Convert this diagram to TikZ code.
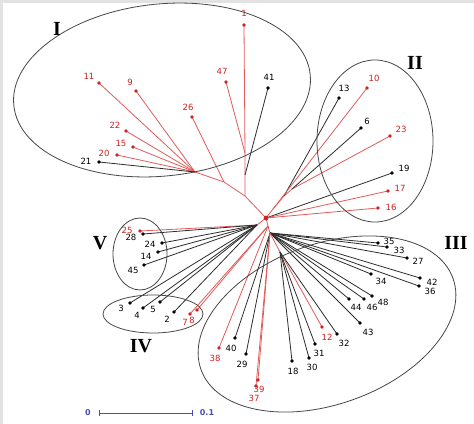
\documentclass[tikz,border=0pt]{standalone}
\usepackage{fontspec}
\usetikzlibrary{backgrounds,arrows.meta}
\newfontfamily\lblfont{DejaVu Sans}
\newfontfamily\romfont{Liberation Serif}
\definecolor{lred}{RGB}{226,90,90}
\definecolor{dred}{RGB}{205,35,35}
\definecolor{lblack}{RGB}{45,45,45}
\definecolor{sbblue}{RGB}{75,75,185}
\definecolor{framegray}{RGB}{226,226,226}
\begin{document}
\begin{tikzpicture}[x=0.75pt,y=-0.75pt,
  rl/.style={draw=lred,line width=0.6pt},
  bl/.style={draw=lblack,line width=0.6pt},
  rdot/.style={circle,fill=dred,inner sep=0pt,minimum size=2.7pt},
  bdot/.style={circle,fill=black,inner sep=0pt,minimum size=2.7pt},
  rlab/.style={text=dred,font=\lblfont\fontsize{6.4}{7}\selectfont,inner sep=0pt},
  blab/.style={text=black,font=\lblfont\fontsize{6.4}{7}\selectfont,inner sep=0pt},
  grp/.style={draw=black!72,line width=0.6pt},
  roman/.style={font=\romfont\bfseries\fontsize{15}{15}\selectfont,inner sep=0pt},
  sblab/.style={text=sbblue,font=\lblfont\bfseries\fontsize{6}{7}\selectfont,inner sep=0pt}
]
\useasboundingbox (0,0) rectangle (474,424);
\begin{pgfonlayer}{background}
\fill[framegray] (0,0) rectangle (474,424);
\fill[white] (3,3) rectangle (474,424);
\end{pgfonlayer}

% ---------- internal points ----------
\node[rdot,minimum size=3.6pt] (R) at (266,218) {};
\coordinate (Q1) at (245,153);
\coordinate (Q2) at (245,175);
\coordinate (P) at (245,196);
\coordinate (S) at (224,182);
\coordinate (A) at (195,172);
\coordinate (T1) at (292,189);
\coordinate (T2) at (284,196);
\coordinate (T3) at (273,209);
\coordinate (Z) at (257,225);
\coordinate (Y) at (268,226);
\coordinate (U) at (270,233);
\coordinate (W) at (280,252);

% ---------- leaves ----------
% group I
\node[rdot] (n1) at (244,25) {};   \node[rlab] (l1) at (244,13) {1};
\node[rdot] (n47) at (226,82) {};  \node[rlab] (l47) at (222,71) {47};
\node[bdot] (n41) at (268,88) {};  \node[blab] (l41) at (269,77) {41};
\node[rdot] (n11) at (99,83) {};   \node[rlab] (l11) at (89,76) {11};
\node[rdot] (n9) at (136,91) {};   \node[rlab] (l9) at (130,82) {9};
\node[rdot] (n26) at (192,117) {}; \node[rlab] (l26) at (188,107) {26};
\node[rdot] (n22) at (126,131) {}; \node[rlab] (l22) at (115,125) {22};
\node[rdot] (n15) at (133,147) {}; \node[rlab] (l15) at (121,143) {15};
\node[rdot] (n20) at (117,155) {}; \node[rlab] (l20) at (104,153) {20};
\node[bdot] (n21) at (99,162) {};  \node[blab] (l21) at (86,161) {21};
% group II
\node[bdot] (n13) at (339,98) {};  \node[blab] (l13) at (344,88) {13};
\node[rdot] (n10) at (367,88) {};  \node[rlab] (l10) at (374,78) {10};
\node[bdot] (n6) at (361,128) {};  \node[blab] (l6) at (367,121) {6};
\node[rdot] (n23) at (390,136) {}; \node[rlab] (l23) at (401,129) {23};
\node[bdot] (n19) at (392,173) {}; \node[blab] (l19) at (404,168) {19};
\node[rdot] (n17) at (388,191) {}; \node[rlab] (l17) at (400,188) {17};
\node[rdot] (n16) at (378,208) {}; \node[rlab] (l16) at (391,207) {16};
% group V
\node[rdot] (n25) at (140,231) {}; \node[rlab] (l25) at (127,230) {25};
\node[bdot] (n28) at (143,234) {}; \node[blab] (l28) at (131,237) {28};
\node[bdot] (n24) at (162,243) {}; \node[blab] (l24) at (150,244) {24};
\node[bdot] (n14) at (158,252) {}; \node[blab] (l14) at (146,256) {14};
\node[bdot] (n45) at (144,265) {}; \node[blab] (l45) at (133,270) {45};
% group IV
\node[bdot] (n3) at (130,303) {};  \node[blab] (l3) at (121,308) {3};
\node[bdot] (n4) at (143,308) {};  \node[blab] (l4) at (137,315) {4};
\node[bdot] (n5) at (160,302) {};  \node[blab] (l5) at (153,309) {5};
\node[bdot] (n2) at (174,312) {};  \node[blab] (l2) at (167,319) {2};
\node[rdot] (n7) at (190,314) {};  \node[rlab] (l7) at (185,322) {7};
\node[rdot] (n8) at (197,310) {};  \node[rlab] (l8) at (192,320) {8};
% group III
\node[bdot] (n35) at (378,243) {}; \node[blab] (l35) at (389,241) {35};
\node[bdot] (n33) at (387,247) {}; \node[blab] (l33) at (399,250) {33};
\node[bdot] (n27) at (407,258) {}; \node[blab] (l27) at (418,261) {27};
\node[bdot] (n34) at (371,274) {}; \node[blab] (l34) at (381,281) {34};
\node[bdot] (n42) at (420,278) {}; \node[blab] (l42) at (432,282) {42};
\node[bdot] (n36) at (419,286) {}; \node[blab] (l36) at (430,291) {36};
\node[bdot] (n44) at (349,299) {}; \node[blab] (l44) at (356,307) {44};
\node[bdot] (n46) at (364,299) {}; \node[blab] (l46) at (372,307) {46};
\node[bdot] (n48) at (372,296) {}; \node[blab] (l48) at (383,302) {48};
\node[bdot] (n43) at (360,323) {}; \node[blab] (l43) at (368,332) {43};
\node[rdot] (n12) at (322,327) {}; \node[rlab] (l12) at (327,337) {12};
\node[bdot] (n32) at (337,334) {}; \node[blab] (l32) at (344,343) {32};
\node[bdot] (n31) at (315,344) {}; \node[blab] (l31) at (319,353) {31};
\node[bdot] (n30) at (309,358) {}; \node[blab] (l30) at (312,367) {30};
\node[bdot] (n18) at (292,361) {}; \node[blab] (l18) at (293,371) {18};
\node[bdot] (n40) at (235,338) {}; \node[blab] (l40) at (231,348) {40};
\node[rdot] (n38) at (219,348) {}; \node[rlab] (l38) at (215,358) {38};
\node[bdot] (n29) at (246,354) {}; \node[blab] (l29) at (242,364) {29};
\node[rdot] (n39) at (258,380) {}; \node[rlab] (l39) at (259,389) {39};
\node[rdot] (n37) at (256,386) {}; \node[rlab] (l37) at (254,398) {37};

% ---------- branches ----------
\begin{pgfonlayer}{background}
% group I
\draw[rl] (n1.center) -- (Q1) -- (Q2) -- (P) -- (R.center);
\draw[rl] (n47.center) -- (Q1);
\draw[bl] (n41.center) -- (Q2);
\draw[rl] (A) -- (S) -- (P);
\draw[rl] (n26.center) -- (S);
\foreach \n in {n11,n9,n22,n15,n20} \draw[rl] (\n.center) -- (A);
\draw[bl] (n21.center) -- (A);
% group II
\draw[rl] (n23.center) -- (T1);
\draw[bl] (n6.center) -- (T1);
\draw[rl] (T1) -- (T2) -- (T3) -- (R.center);
\draw[bl] (n13.center) -- (T2);
\draw[rl] (n10.center) -- (T3);
\draw[bl] (n19.center) -- (R.center);
\draw[rl] (n17.center) -- (R.center);
\draw[rl] (n16.center) -- (R.center);
% groups V and IV
\draw[rl] (Z) -- (R.center);
\draw[rl] (n25.center) -- (Z);
\foreach \n in {n28,n24,n14,n45,n3,n4,n5,n2} \draw[bl] (\n.center) -- (Z);
\draw[rl] (R.center) -- (Y) -- (U);
\draw[rl] (n7.center) -- (Y);
\draw[rl] (n8.center) -- (Y);
% group III
\foreach \n in {n35,n33,n27,n34,n42,n36,n44,n46,n48,n43,n40,n29} \draw[bl] (\n.center) -- (U);
\draw[rl] (n38.center) -- (Y);
\draw[rl] (n39.center) -- (U);
\draw[rl] (n37.center) -- (U);
\draw[rl] (W) -- (U);
\draw[rl] (n12.center) -- (W);
\foreach \n in {n32,n31,n30,n18} \draw[bl] (\n.center) -- (W);
\end{pgfonlayer}

% ---------- clusters ----------
\draw[grp,rotate around={6:(162,90)}] (162,90) ellipse [x radius=149, y radius=86];
\draw[grp] (375,141) ellipse [x radius=58, y radius=81];
\draw[grp] (140,254) ellipse [x radius=27, y radius=36];
\draw[grp] (153,314) ellipse [x radius=50, y radius=19];
\draw[grp,rotate around={20:(327,324)}] (327,324) ellipse [x radius=134, y radius=80];

\node[roman] (gI) at (57,29) {I};
\node[roman] (gII) at (415,63) {II};
\node[roman] (gIII) at (456,243) {III};
\node[roman] (gIV) at (141,346) {IV};
\node[roman] (gV) at (100,243) {V};

% ---------- scale bar ----------
\node[sblab] (s0) at (88,413) {0};
\node[sblab] (s1) at (207,413) {0.1};
\coordinate (b1) at (99,413);
\coordinate (b2) at (193,413);
\draw[draw=sbblue,line width=0.6pt,{Bar[width=4pt]}-{Bar[width=4pt]}] (b1) -- (b2);
\end{tikzpicture}
\end{document}
